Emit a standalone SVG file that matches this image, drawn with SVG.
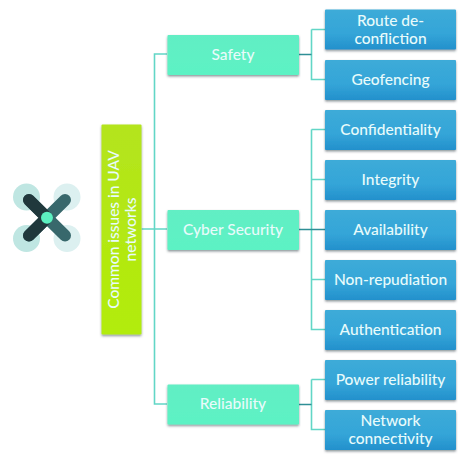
<svg xmlns="http://www.w3.org/2000/svg" width="474" height="456" viewBox="0 0 474 456">
<defs>
<linearGradient id="blue" x1="0" y1="0" x2="0" y2="1"><stop offset="0" stop-color="#3dabd8"/><stop offset="0.6" stop-color="#34a5d8"/><stop offset="1" stop-color="#2390cc"/></linearGradient>
<linearGradient id="teal" x1="0" y1="0" x2="0" y2="1"><stop offset="0" stop-color="#62eec4"/><stop offset="1" stop-color="#5cf2c4"/></linearGradient>
<linearGradient id="lime" x1="0" y1="0" x2="0" y2="1"><stop offset="0" stop-color="#b4e41e"/><stop offset="1" stop-color="#b2ec08"/></linearGradient>
<filter id="sh" x="-10%" y="-10%" width="120%" height="125%"><feDropShadow dx="0" dy="1.5" stdDeviation="0.8" flood-color="#30404a" flood-opacity="0.55"/></filter>
</defs>
<style>
text{font-family:"Lato","Open Sans","Liberation Sans",sans-serif;fill:#e8fbfb;text-anchor:middle;font-size:15.500px;font-weight:500}
.b{fill:url(#blue);filter:url(#sh)}
.t{fill:url(#teal);filter:url(#sh)}
.c{fill:none;stroke:#62d6c6;stroke-width:1.600}
.d{fill:none;stroke:#2f8f96;stroke-width:1.600}
</style>
<rect width="474" height="456" fill="#fff"/>
<g id="connectors">
<path class="c" d="M167 54H154.500V404H167M141.500 229H167"/>
<path class="c" d="M311.500 29.500H325M311.500 29.500V79.500H325"/>
<path class="c" d="M311.500 129.500H325M311.500 129.500V329.500H325M311.500 179.500H325M311.500 279.500H325"/>
<path class="c" d="M311.500 379.500H325M311.500 379.500V429.500H325"/>
<path class="d" d="M299 54.500H311.500M299 229.500H325M299 404.500H311.500"/>
</g>
<g id="drone">
<circle cx="26.500" cy="197" r="13.500" fill="#bfe6e2"/>
<circle cx="67" cy="197" r="13.500" fill="#dcf0f0"/>
<circle cx="26.500" cy="238.500" r="13.500" fill="#bfe6e2"/>
<circle cx="67" cy="238.500" r="13.500" fill="#dcf0f0"/>
<path d="M29 200L65 235.500" stroke="#38686c" stroke-width="12" stroke-linecap="round"/>
<path d="M65 200L29 235.500" stroke="#38686c" stroke-width="12" stroke-linecap="round"/>
<path d="M29 200L47 217.800L29 235.500" fill="none" stroke="#20383c" stroke-width="12" stroke-linecap="round" stroke-linejoin="round"/>
<circle cx="47" cy="217.800" r="6" fill="#5cf0c0"/>
</g>
<g id="root">
<rect x="101.500" y="124.500" width="40" height="210" rx="1" fill="url(#lime)" filter="url(#sh)"/>
<text transform="translate(121.500 229.500) rotate(-90)"><tspan x="0" y="-3">Common issues in UAV</tspan><tspan x="0" y="14">networks</tspan></text>
</g>
<g id="safety"><rect class="t" x="167.500" y="35" width="131.500" height="40" rx="1"/><text x="233" y="60">Safety</text></g>
<g id="cyber-security"><rect class="t" x="167.500" y="210" width="131.500" height="40" rx="1"/><text x="233" y="235">Cyber Security</text></g>
<g id="reliability"><rect class="t" x="167.500" y="384.500" width="131.500" height="40" rx="1"/><text x="233" y="409">Reliability</text></g>
<g id="route-deconfliction"><rect class="b" x="325" y="9.500" width="131" height="40" rx="1"/><text x="390.500" y="26">Route de-</text><text x="390.500" y="44">confliction</text></g>
<g id="geofencing"><rect class="b" x="325" y="60" width="131" height="40" rx="1"/><text x="390.500" y="85">Geofencing</text></g>
<g id="confidentiality"><rect class="b" x="325" y="110" width="131" height="40" rx="1"/><text x="390.500" y="135">Confidentiality</text></g>
<g id="integrity"><rect class="b" x="325" y="160" width="131" height="40" rx="1"/><text x="390.500" y="185">Integrity</text></g>
<g id="availability"><rect class="b" x="325" y="210" width="131" height="40" rx="1"/><text x="390.500" y="235">Availability</text></g>
<g id="non-repudiation"><rect class="b" x="325" y="260" width="131" height="40" rx="1"/><text x="390.500" y="285">Non-repudiation</text></g>
<g id="authentication"><rect class="b" x="325" y="310" width="131" height="40" rx="1"/><text x="390.500" y="335">Authentication</text></g>
<g id="power-reliability"><rect class="b" x="325" y="360" width="131" height="40" rx="1"/><text x="390.500" y="385">Power reliability</text></g>
<g id="network-connectivity"><rect class="b" x="325" y="410" width="131" height="40" rx="1"/><text x="390.500" y="426">Network</text><text x="390.500" y="444">connectivity</text></g>
</svg>
